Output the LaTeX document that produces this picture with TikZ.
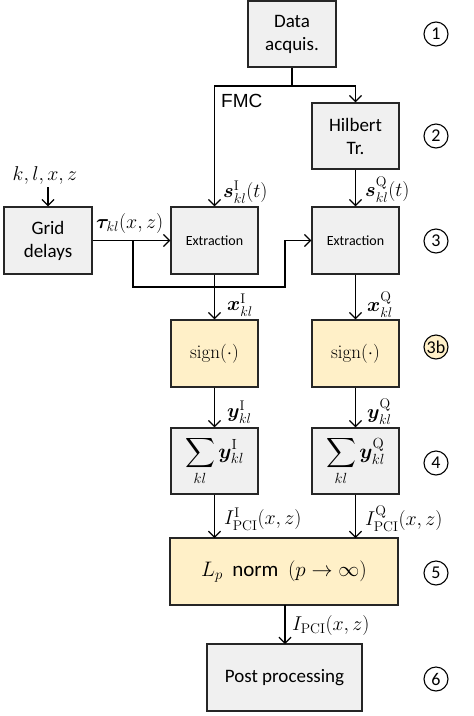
\RequirePackage{fix-cm}
\documentclass[tikz,border=0pt]{standalone}
\usepackage{amsmath,bm}
\usepackage[no-math]{fontspec}
\setmainfont{Carlito}
\newfontfamily\arialf{Liberation Sans}
\usetikzlibrary{arrows.meta}
\definecolor{boxgray}{HTML}{F0F0F0}
\definecolor{boxyel}{HTML}{FFF0C8}
\tikzset{
  blk/.style={draw=black!85, line width=1.4pt, fill=boxgray, inner sep=0pt, align=center, font=\fontsize{19}{23}\selectfont},
  yblk/.style={blk, fill=boxyel},
  arr/.style={line width=1.2pt, -{Straight Barb[length=6pt,width=12pt,line width=1.2pt]}},
  ln/.style={line width=1.2pt},
  lbl/.style={inner sep=0pt, anchor=west, font=\fontsize{20}{22}\selectfont},
  num/.style={draw, circle, line width=1.1pt, minimum size=24pt, inner sep=0pt, font=\fontsize{18}{20}\selectfont},
}
\begin{document}
\begin{tikzpicture}[x=1pt,y=-1pt]
\useasboundingbox (0,0) rectangle (474,716);
% boxes
\node[blk, minimum width=88pt, minimum height=66pt] (data) at (292,34) {Data\\acquis.};
\node[blk, minimum width=87pt, minimum height=66pt] (hil) at (355.5,136) {Hilbert\\Tr.};
\node[blk, minimum width=87pt, minimum height=67pt] (ext1) at (214.5,240.5) {\fontsize{14}{16}\selectfont Extraction};
\node[blk, minimum width=87pt, minimum height=67pt] (ext2) at (355.5,240.5) {\fontsize{14}{16}\selectfont Extraction};
\node[blk, minimum width=88pt, minimum height=67pt] (grid) at (48,240.5) {Grid\\delays};
\node[yblk, minimum width=87pt, minimum height=67pt] (sg1) at (214.5,353.5) {\fontsize{19}{22}\selectfont$\mathrm{sign}(\cdot)$};
\node[yblk, minimum width=87pt, minimum height=67pt] (sg2) at (355.5,353.5) {\fontsize{19}{22}\selectfont$\mathrm{sign}(\cdot)$};
\node[blk, minimum width=87pt, minimum height=66pt] (sum1) at (214.5,461) {\fontsize{21}{24}\selectfont$\displaystyle\sum_{kl}\bm{y}^{\mathrm{I}}_{kl}$};
\node[blk, minimum width=87pt, minimum height=66pt] (sum2) at (355.5,461) {\fontsize{21}{24}\selectfont$\displaystyle\sum_{kl}\bm{y}^{\mathrm{Q}}_{kl}$};
\node[yblk, minimum width=228pt, minimum height=67pt] (lp) at (284,571.5) {\fontsize{21}{24}\selectfont$L_p$\ \ norm\ \ $(p\to\infty)$};
\node[blk, minimum width=155pt, minimum height=67pt] (post) at (284.5,677.5) {Post processing};
% input label
\node[inner sep=0pt, font=\fontsize{20}{22}\selectfont] (klxz) at (45,175) {$k,l,x,z$};
% step numbers
\node[num] (n1) at (436,34) {1};
\node[num] (n2) at (436,136) {2};
\node[num] (n3) at (436,241) {3};
\node[num, fill=boxyel] (n3b) at (436,347) {3b};
\node[num] (n4) at (436,463) {4};
\node[num] (n5) at (436,573) {5};
\node[num] (n6) at (436,679) {6};
% coordinates
\coordinate (j) at (292,86);
\coordinate (b) at (133,240.5);
\coordinate (b2) at (285,287);
\coordinate (p1) at (285,240.5);
\coordinate (lpin1) at (214.5,538);
\coordinate (lpin2) at (355.5,538);
\coordinate (lpout) at (285,605);
\coordinate (postin) at (285,644);
\coordinate (kin) at (48,187);
% connectors
\draw[ln] (data.south) -- (j);
\draw[arr] (j) -| (ext1.north);
\draw[arr] (j) -| (hil.north);
\draw[arr] (hil.south) -- (ext2.north);
\draw[arr] (kin) -- (grid.north);
\draw[arr] (grid.east) -- (ext1.west);
\draw[arr] (b) |- (b2) -- (p1) -- (ext2.west);
\draw[arr] (ext1.south) -- (sg1.north);
\draw[arr] (ext2.south) -- (sg2.north);
\draw[arr] (sg1.south) -- (sum1.north);
\draw[arr] (sg2.south) -- (sum2.north);
\draw[arr] (sum1.south) -- (lpin1);
\draw[arr] (sum2.south) -- (lpin2);
\draw[arr] (lpout) -- (postin);
% labels
\node[lbl, font=\arialf\fontsize{19}{20}\selectfont] (fmc) at (221,101) {FMC};
\node[lbl] (ls1) at (223,192) {$\bm{s}^{\mathrm{I}}_{kl}(t)$};
\node[lbl] (ls2) at (365,190) {$\bm{s}^{\mathrm{Q}}_{kl}(t)$};
\node[lbl] (ltau) at (96,223) {$\bm{\tau}_{kl}(x,z)$};
\node[lbl] (lx1) at (227,305) {$\bm{x}^{\mathrm{I}}_{kl}$};
\node[lbl] (lx2) at (367,305) {$\bm{x}^{\mathrm{Q}}_{kl}$};
\node[lbl] (ly1) at (227,412) {$\bm{y}^{\mathrm{I}}_{kl}$};
\node[lbl] (ly2) at (367,412) {$\bm{y}^{\mathrm{Q}}_{kl}$};
\node[lbl] (li1) at (224,519) {$I^{\mathrm{I}}_{\mathrm{PCI}}(x,z)$};
\node[lbl] (li2) at (365,519) {$I^{\mathrm{Q}}_{\mathrm{PCI}}(x,z)$};
\node[lbl] (li) at (292,625) {$I_{\mathrm{PCI}}(x,z)$};
\end{tikzpicture}
\end{document}
